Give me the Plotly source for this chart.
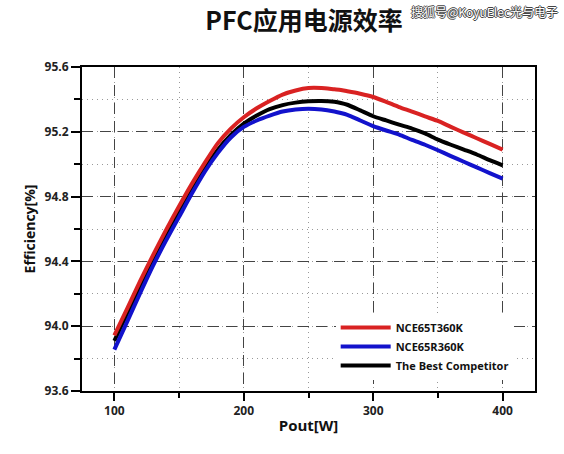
import plotly.graph_objects as go

pout = [100, 110, 120, 130, 140, 150, 160, 170, 180, 190, 200, 210, 220, 230, 240,
        250, 260, 270, 275, 280, 290, 300, 310, 320, 330, 340, 350, 360, 370, 380, 390, 400]

eff_t360 = [93.944, 94.11, 94.28, 94.44, 94.595, 94.74, 94.88, 95.01, 95.13, 95.22, 95.29,
            95.345, 95.39, 95.43, 95.455, 95.47, 95.47, 95.462, 95.458, 95.45, 95.435, 95.415,
            95.385, 95.353, 95.325, 95.295, 95.267, 95.23, 95.195, 95.16, 95.125, 95.09]

eff_r360 = [93.855, 94.03, 94.205, 94.375, 94.53, 94.675, 94.82, 94.955, 95.07, 95.165, 95.23,
            95.27, 95.30, 95.325, 95.338, 95.343, 95.338, 95.325, 95.316, 95.305, 95.27, 95.235,
            95.208, 95.183, 95.15, 95.12, 95.086, 95.05, 95.015, 94.98, 94.945, 94.911]

eff_comp = [93.91, 94.08, 94.245, 94.41, 94.56, 94.705, 94.845, 94.975, 95.09, 95.18, 95.25,
            95.30, 95.34, 95.365, 95.38, 95.388, 95.39, 95.385, 95.378, 95.367, 95.332, 95.296,
            95.27, 95.244, 95.22, 95.19, 95.152, 95.12, 95.09, 95.06, 95.025, 94.993]

series = [
    ("The Best Competitor", eff_comp, "#000000"),
    ("NCE65R360K", eff_r360, "#1212cc"),
    ("NCE65T360K", eff_t360, "#d92222"),
]

x_ticks = [100, 200, 300, 400]
y_ticks = [93.6, 94.0, 94.4, 94.8, 95.2, 95.6]

fig = go.Figure()
for name, vals, col in series:
    fig.add_trace(go.Scatter(
        x=pout, y=vals, mode="lines", name=name,
        line=dict(color=col, width=4, shape="spline", smoothing=0.6),
    ))

tick_font = dict(family="Open Sans", size=12, color="#222222", weight="bold")

fig.update_layout(
    width=564, height=454,
    margin=dict(l=82, r=29, t=67, b=63),
    paper_bgcolor="white", plot_bgcolor="white",
    title=dict(text="PFC应用电源效率", x=0.49, xref="paper", xanchor="center",
               y=1 - 21 / 454, yanchor="middle",
               font=dict(family="Noto Sans CJK SC", size=25, color="#111111", weight="bold")),
    showlegend=True,
    legend=dict(
        x=0.56, y=0.241, xanchor="left", yanchor="top",
        bgcolor="white", borderwidth=0,
        font=dict(family="Open Sans", size=11, color="#111111", weight="bold"),
        traceorder="reversed", itemwidth=50,
        tracegroupgap=0,
    ),
    annotations=[dict(
        text="搜狐号@KoyuElec光与电子", xref="paper", yref="paper",
        x=0.722, y=1.17, xanchor="left", yanchor="middle", showarrow=False,
        font=dict(family="Noto Sans CJK SC", size=12, color="white",
                  shadow="-1px 0 #444, 1px 0 #444, 0 -1px #444, 0 1px #444"),
    )],
)

fig.update_xaxes(
    range=[75, 425], tickvals=x_ticks,
    showline=True, linecolor="black", linewidth=2, mirror=True,
    ticks="outside", ticklen=8, tickwidth=2, tickcolor="black",
    tickfont=tick_font,
    showgrid=True, gridcolor="#444444", gridwidth=1.3, griddash="11px,7px",
    zeroline=False,
    minor=dict(dtick=50, tick0=0, ticks="outside", ticklen=5, tickwidth=2, tickcolor="black",
               showgrid=True, gridcolor="#999999", gridwidth=1, griddash="1px,4px"),
    title=dict(text="Pout[W]", standoff=2,
               font=dict(family="Open Sans", size=15, color="#111111", weight="bold")),
)

fig.update_yaxes(
    range=[93.6, 95.6], tickvals=y_ticks, tickformat=".1f",
    showline=True, linecolor="black", linewidth=2, mirror=True,
    ticks="outside", ticklen=9, tickwidth=2, tickcolor="black",
    tickfont=tick_font,
    showgrid=True, gridcolor="#444444", gridwidth=1.3, griddash="11px,7px",
    zeroline=False,
    minor=dict(dtick=0.2, tick0=93.6, ticks="outside", ticklen=6, tickwidth=2, tickcolor="black",
               showgrid=True, gridcolor="#999999", gridwidth=1, griddash="1px,4px"),
    title=dict(text="Efficiency[%]", standoff=6,
               font=dict(family="Open Sans", size=14, color="#111111", weight="bold")),
)

fig.write_html("out.html")
